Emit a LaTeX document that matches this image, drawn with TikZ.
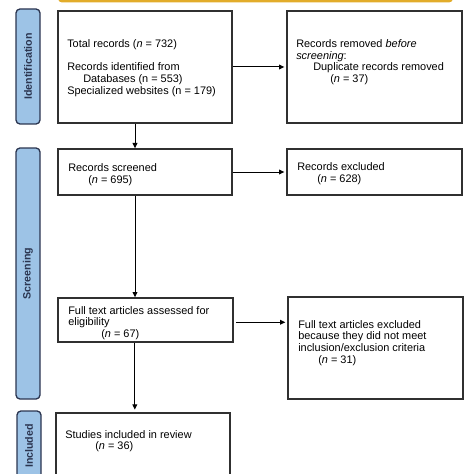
\documentclass[tikz,border=0pt]{standalone}
\usepackage{fontspec}
\setmainfont{Liberation Sans}
\usetikzlibrary{arrows.meta}
\definecolor{gold}{HTML}{E2AC2A}
\definecolor{sidefill}{HTML}{9DC3E6}
\definecolor{sidedraw}{HTML}{2B3550}
\definecolor{boxdraw}{HTML}{303030}
\tikzset{
  box/.style={draw=boxdraw, line width=1pt, fill=white},
  side/.style={draw=sidedraw, line width=1pt, fill=sidefill, rounded corners=3pt},
  sidetxt/.style={rotate=90, font=\fontsize{8}{9}\bfseries, text=sidedraw, inner sep=0},
  txt/.style={anchor=north west, align=left, inner sep=0, font=\fontsize{8.2}{8.8}\selectfont},
  arr/.style={line width=0.75pt, -{Triangle[length=4pt,width=3.6pt]}}
}
\begin{document}
\begin{tikzpicture}[x=0.75pt,y=-0.75pt]
\useasboundingbox (0,0) rectangle (474,474);
\clip (0,0) rectangle (474,474);
% top gold bar
\fill[gold, rounded corners=3pt] (58,-20) rectangle (453,2.5);
% side labels
\draw[side] (16,9) rectangle (40,124);
\node[sidetxt] (lid) at (28,66.5) {Identification};
\draw[side] (16,148) rectangle (40,399);
\node[sidetxt] (lsc) at (28,273.5) {Screening};
\draw[side] (17,411) rectangle (41,490);
\node[sidetxt] (lin) at (29,446) {Included};
% boxes
\node[box, minimum width=174*0.75pt, minimum height=112*0.75pt, inner sep=0] (b1) at (145,67) {};
\node[box, minimum width=175*0.75pt, minimum height=112*0.75pt, inner sep=0] (b2) at (374.5,67) {};
\node[box, minimum width=174*0.75pt, minimum height=46*0.75pt, inner sep=0] (b3) at (145,172) {};
\node[box, minimum width=175*0.75pt, minimum height=46*0.75pt, inner sep=0] (b4) at (374.5,172) {};
\node[box, minimum width=175*0.75pt, minimum height=44*0.75pt, inner sep=0] (b5) at (145.5,320) {};
\node[box, minimum width=175*0.75pt, minimum height=102*0.75pt, inner sep=0] (b6) at (375.5,348) {};
\node[box, minimum width=174*0.75pt, minimum height=77*0.75pt, inner sep=0] (b7) at (143,451.5) {};
% texts
\node[txt] (t1) at (67,38.8) {\strut Total records (\textit{n} = 732)\\ \\
Records identified from\\ \hspace*{12pt}Databases (n = 553)\\ Specialized websites (n = 179)};
\node[txt] (t2) at (296,38.8) {\strut Records removed \textit{before}\\ \textit{screening}:\\
\hspace*{12.75pt}Duplicate records removed\\ \hspace*{25.5pt}(\textit{n} = 37)};
\node[txt] (t3) at (68,163.5) {\strut Records screened\\ \hspace*{15pt}(\textit{n} = 695)};
\node[txt] (t4) at (297,162.3) {\strut Records excluded\\ \hspace*{15pt}(\textit{n} = 628)};
\node[txt] (t5) at (68,305.6) {\strut Full text articles assessed for\\ eligibility\\ \hspace*{24.75pt}(\textit{n} = 67)};
\node[txt] (t6) at (298,319.6) {\strut Full text articles excluded\\ because they did not meet\\ inclusion/exclusion criteria\\ \hspace*{15pt}(\textit{n} = 31)};
\node[txt] (t7) at (65,429.6) {\strut Studies included in review\\ \hspace*{22.5pt}(\textit{n} = 36)};
% arrows
\draw[arr] (b1.east) -- ([xshift=-1.5pt]b2.west);
\draw[arr] (b3.east) -- ([xshift=-1.5pt]b4.west);
\draw[arr] ([xshift=2pt,yshift=-1.7pt]b5.east) -- ([xshift=-1.5pt,yshift=-1.7pt]b5.east -| b6.west);
\draw[arr] ([xshift=-7.5pt]b1.south) -- ([xshift=-7.5pt]b1.south |- b3.north);
\draw[arr] ([xshift=-7.5pt]b3.south) -- ([xshift=-7.5pt]b3.south |- b5.north);
\draw[arr] ([xshift=-8pt]b5.south) -- ([xshift=-8pt,yshift=2pt]b5.south |- b7.north);
\end{tikzpicture}
\end{document}
